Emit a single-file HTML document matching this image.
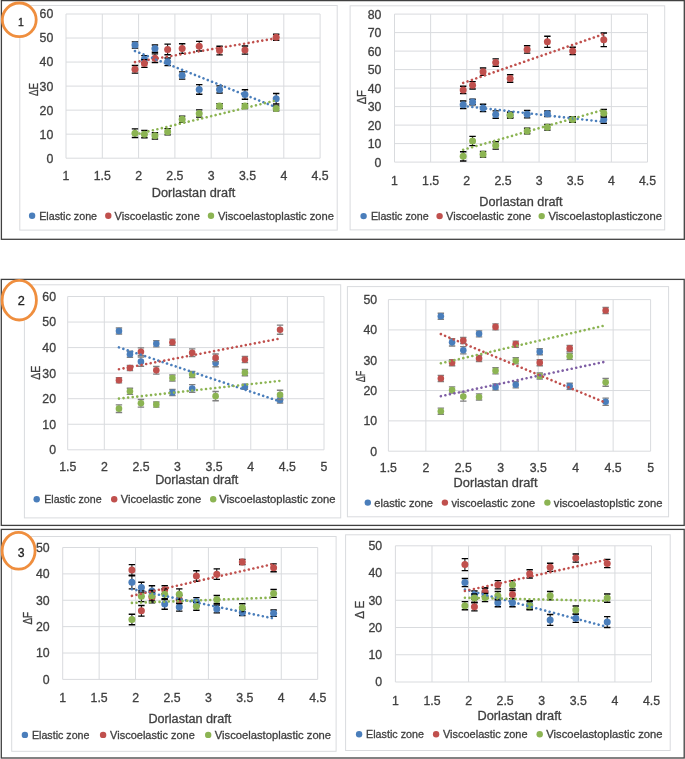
<!DOCTYPE html>
<html><head><meta charset="utf-8"><style>
html,body{margin:0;padding:0;background:#fff;width:685px;height:759px;overflow:hidden}
svg{display:block;will-change:transform}
text{font-family:"Liberation Sans", sans-serif;stroke-width:0.3px}
</style></head><body>
<svg width="685" height="759" viewBox="0 0 685 759">
<rect x="1.4" y="0.6" width="682.9" height="238.7" fill="none" stroke="#404040" stroke-width="1.3"/>
<rect x="1.3" y="279.4" width="682.9" height="246" fill="none" stroke="#404040" stroke-width="1.3"/>
<rect x="1.3" y="529.4" width="682.9" height="228.6" fill="none" stroke="#404040" stroke-width="1.3"/>
<rect x="19.8" y="5.5" width="317.4" height="224.6" fill="#fff" stroke="#d9dbde" stroke-width="1"/>
<path d="M66 14V158.2M102.3 14V158.2M138.6 14V158.2M174.9 14V158.2M211.2 14V158.2M247.5 14V158.2M283.8 14V158.2M320.1 14V158.2M66 158.2H320.1M66 134.17H320.1M66 110.13H320.1M66 86.1H320.1M66 62.07H320.1M66 38.03H320.1M66 14H320.1" stroke="#d9dbde" stroke-width="1" fill="none"/>
<text x="66" y="180" font-size="12.3" text-anchor="middle" fill="#404040" stroke="#404040" stroke-width="0.12">1</text>
<text x="102.3" y="180" font-size="12.3" text-anchor="middle" fill="#404040" stroke="#404040" stroke-width="0.12">1.5</text>
<text x="138.6" y="180" font-size="12.3" text-anchor="middle" fill="#404040" stroke="#404040" stroke-width="0.12">2</text>
<text x="174.9" y="180" font-size="12.3" text-anchor="middle" fill="#404040" stroke="#404040" stroke-width="0.12">2.5</text>
<text x="211.2" y="180" font-size="12.3" text-anchor="middle" fill="#404040" stroke="#404040" stroke-width="0.12">3</text>
<text x="247.5" y="180" font-size="12.3" text-anchor="middle" fill="#404040" stroke="#404040" stroke-width="0.12">3.5</text>
<text x="283.8" y="180" font-size="12.3" text-anchor="middle" fill="#404040" stroke="#404040" stroke-width="0.12">4</text>
<text x="320.1" y="180" font-size="12.3" text-anchor="middle" fill="#404040" stroke="#404040" stroke-width="0.12">4.5</text>
<text x="53.3" y="162.6" font-size="12.3" text-anchor="end" fill="#404040" stroke="#404040" stroke-width="0.12">0</text>
<text x="53.3" y="138.57" font-size="12.3" text-anchor="end" fill="#404040" stroke="#404040" stroke-width="0.12">10</text>
<text x="53.3" y="114.53" font-size="12.3" text-anchor="end" fill="#404040" stroke="#404040" stroke-width="0.12">20</text>
<text x="53.3" y="90.5" font-size="12.3" text-anchor="end" fill="#404040" stroke="#404040" stroke-width="0.12">30</text>
<text x="53.3" y="66.47" font-size="12.3" text-anchor="end" fill="#404040" stroke="#404040" stroke-width="0.12">40</text>
<text x="53.3" y="42.43" font-size="12.3" text-anchor="end" fill="#404040" stroke="#404040" stroke-width="0.12">50</text>
<text x="53.3" y="18.4" font-size="12.3" text-anchor="end" fill="#404040" stroke="#404040" stroke-width="0.12">60</text>
<text x="151.75" y="196.7" font-size="12.5" fill="#404040" stroke="#404040" textLength="83.5" lengthAdjust="spacingAndGlyphs">Dorlastan draft</text>
<text transform="translate(38.4 89.5) rotate(-90)" x="-6.5" y="0" font-size="12.5" fill="#404040" stroke="#404040" textLength="13" lengthAdjust="spacingAndGlyphs">ΔE</text>
<circle cx="32.1" cy="215.8" r="3.2" fill="#4a7ebb"/>
<text x="39.2" y="219.8" font-size="11.3" fill="#404040" stroke="#404040" textLength="57.9" lengthAdjust="spacingAndGlyphs">Elastic zone</text>
<circle cx="108.3" cy="215.8" r="3.2" fill="#c0504d"/>
<text x="114.6" y="219.8" font-size="11.3" fill="#404040" stroke="#404040" textLength="85.2" lengthAdjust="spacingAndGlyphs">Viscoelastic zone</text>
<circle cx="211" cy="215.8" r="3.2" fill="#8cb453"/>
<text x="218" y="219.8" font-size="11.3" fill="#404040" stroke="#404040" textLength="116" lengthAdjust="spacingAndGlyphs">Viscoelastoplastic zone</text>
<path d="M134.97 41.88V48.13" stroke="#000" stroke-width="1" fill="none"/>
<path d="M131.77 41.88H138.17M131.77 48.13H138.17" stroke="#000" stroke-width="1.4" fill="none"/>
<path d="M144.41 55.58V62.79" stroke="#000" stroke-width="1" fill="none"/>
<path d="M141.21 55.58H147.61M141.21 62.79H147.61" stroke="#000" stroke-width="1.4" fill="none"/>
<path d="M154.94 45V52.21" stroke="#000" stroke-width="1" fill="none"/>
<path d="M151.74 45H158.13M151.74 52.21H158.13" stroke="#000" stroke-width="1.4" fill="none"/>
<path d="M167.64 57.98V65.67" stroke="#000" stroke-width="1" fill="none"/>
<path d="M164.44 57.98H170.84M164.44 65.67H170.84" stroke="#000" stroke-width="1.4" fill="none"/>
<path d="M182.16 71.92V79.13" stroke="#000" stroke-width="1" fill="none"/>
<path d="M178.96 71.92H185.36M178.96 79.13H185.36" stroke="#000" stroke-width="1.4" fill="none"/>
<path d="M199.22 84.66V94.27" stroke="#000" stroke-width="1" fill="none"/>
<path d="M196.02 84.66H202.42M196.02 94.27H202.42" stroke="#000" stroke-width="1.4" fill="none"/>
<path d="M219.55 85.86V93.07" stroke="#000" stroke-width="1" fill="none"/>
<path d="M216.35 85.86H222.75M216.35 93.07H222.75" stroke="#000" stroke-width="1.4" fill="none"/>
<path d="M244.96 89.7V99.32" stroke="#000" stroke-width="1" fill="none"/>
<path d="M241.76 89.7H248.16M241.76 99.32H248.16" stroke="#000" stroke-width="1.4" fill="none"/>
<path d="M276.18 93.43V104" stroke="#000" stroke-width="1" fill="none"/>
<path d="M272.98 93.43H279.38M272.98 104H279.38" stroke="#000" stroke-width="1.4" fill="none"/>
<circle cx="134.97" cy="45" r="3.5" fill="#4a7ebb"/>
<circle cx="144.41" cy="59.18" r="3.5" fill="#4a7ebb"/>
<circle cx="154.94" cy="48.61" r="3.5" fill="#4a7ebb"/>
<circle cx="167.64" cy="61.83" r="3.5" fill="#4a7ebb"/>
<circle cx="182.16" cy="75.53" r="3.5" fill="#4a7ebb"/>
<circle cx="199.22" cy="89.46" r="3.5" fill="#4a7ebb"/>
<circle cx="219.55" cy="89.46" r="3.5" fill="#4a7ebb"/>
<circle cx="244.96" cy="94.51" r="3.5" fill="#4a7ebb"/>
<circle cx="276.18" cy="98.72" r="3.5" fill="#4a7ebb"/>
<path d="M134.97 65.43V73.12" stroke="#000" stroke-width="1" fill="none"/>
<path d="M131.77 65.43H138.17M131.77 73.12H138.17" stroke="#000" stroke-width="1.4" fill="none"/>
<path d="M144.41 59.66V67.35" stroke="#000" stroke-width="1" fill="none"/>
<path d="M141.21 59.66H147.61M141.21 67.35H147.61" stroke="#000" stroke-width="1.4" fill="none"/>
<path d="M154.94 53.9V62.55" stroke="#000" stroke-width="1" fill="none"/>
<path d="M151.74 53.9H158.13M151.74 62.55H158.13" stroke="#000" stroke-width="1.4" fill="none"/>
<path d="M167.64 44.16V54.74" stroke="#000" stroke-width="1" fill="none"/>
<path d="M164.44 44.16H170.84M164.44 54.74H170.84" stroke="#000" stroke-width="1.4" fill="none"/>
<path d="M182.16 43.8V53.41" stroke="#000" stroke-width="1" fill="none"/>
<path d="M178.96 43.8H185.36M178.96 53.41H185.36" stroke="#000" stroke-width="1.4" fill="none"/>
<path d="M199.22 41.4V51.01" stroke="#000" stroke-width="1" fill="none"/>
<path d="M196.02 41.4H202.42M196.02 51.01H202.42" stroke="#000" stroke-width="1.4" fill="none"/>
<path d="M219.55 46.2V54.86" stroke="#000" stroke-width="1" fill="none"/>
<path d="M216.35 46.2H222.75M216.35 54.86H222.75" stroke="#000" stroke-width="1.4" fill="none"/>
<path d="M244.96 45.96V54.14" stroke="#000" stroke-width="1" fill="none"/>
<path d="M241.76 45.96H248.16M241.76 54.14H248.16" stroke="#000" stroke-width="1.4" fill="none"/>
<path d="M276.18 34.31V40.32" stroke="#000" stroke-width="1" fill="none"/>
<path d="M272.98 34.31H279.38M272.98 40.32H279.38" stroke="#000" stroke-width="1.4" fill="none"/>
<circle cx="134.97" cy="69.28" r="3.5" fill="#c0504d"/>
<circle cx="144.41" cy="63.51" r="3.5" fill="#c0504d"/>
<circle cx="154.94" cy="58.22" r="3.5" fill="#c0504d"/>
<circle cx="167.64" cy="49.45" r="3.5" fill="#c0504d"/>
<circle cx="182.16" cy="48.61" r="3.5" fill="#c0504d"/>
<circle cx="199.22" cy="46.2" r="3.5" fill="#c0504d"/>
<circle cx="219.55" cy="50.53" r="3.5" fill="#c0504d"/>
<circle cx="244.96" cy="50.05" r="3.5" fill="#c0504d"/>
<circle cx="276.18" cy="37.31" r="3.5" fill="#c0504d"/>
<path d="M134.97 128.88V137.53" stroke="#000" stroke-width="1" fill="none"/>
<path d="M131.77 128.88H138.17M131.77 137.53H138.17" stroke="#000" stroke-width="1.4" fill="none"/>
<path d="M144.41 130.56V137.77" stroke="#000" stroke-width="1" fill="none"/>
<path d="M141.21 130.56H147.61M141.21 137.77H147.61" stroke="#000" stroke-width="1.4" fill="none"/>
<path d="M154.94 132.72V138.97" stroke="#000" stroke-width="1" fill="none"/>
<path d="M151.74 132.72H158.13M151.74 138.97H158.13" stroke="#000" stroke-width="1.4" fill="none"/>
<path d="M167.64 128.64V134.89" stroke="#000" stroke-width="1" fill="none"/>
<path d="M164.44 128.64H170.84M164.44 134.89H170.84" stroke="#000" stroke-width="1.4" fill="none"/>
<path d="M182.16 116.14V122.39" stroke="#000" stroke-width="1" fill="none"/>
<path d="M178.96 116.14H185.36M178.96 122.39H185.36" stroke="#000" stroke-width="1.4" fill="none"/>
<path d="M199.22 109.89V117.1" stroke="#000" stroke-width="1" fill="none"/>
<path d="M196.02 109.89H202.42M196.02 117.1H202.42" stroke="#000" stroke-width="1.4" fill="none"/>
<path d="M219.55 103.64V108.45" stroke="#000" stroke-width="1" fill="none"/>
<path d="M216.35 103.64H222.75M216.35 108.45H222.75" stroke="#000" stroke-width="1.4" fill="none"/>
<path d="M244.96 103.64V108.45" stroke="#000" stroke-width="1" fill="none"/>
<path d="M241.76 103.64H248.16M241.76 108.45H248.16" stroke="#000" stroke-width="1.4" fill="none"/>
<path d="M276.18 106.05V110.85" stroke="#000" stroke-width="1" fill="none"/>
<path d="M272.98 106.05H279.38M272.98 110.85H279.38" stroke="#000" stroke-width="1.4" fill="none"/>
<circle cx="134.97" cy="133.21" r="3.5" fill="#8cb453"/>
<circle cx="144.41" cy="134.17" r="3.5" fill="#8cb453"/>
<circle cx="154.94" cy="135.85" r="3.5" fill="#8cb453"/>
<circle cx="167.64" cy="131.76" r="3.5" fill="#8cb453"/>
<circle cx="182.16" cy="119.27" r="3.5" fill="#8cb453"/>
<circle cx="199.22" cy="113.5" r="3.5" fill="#8cb453"/>
<circle cx="219.55" cy="106.05" r="3.5" fill="#8cb453"/>
<circle cx="244.96" cy="106.05" r="3.5" fill="#8cb453"/>
<circle cx="276.18" cy="108.45" r="3.5" fill="#8cb453"/>
<line x1="134.97" y1="51.04" x2="276.18" y2="107.31" stroke="#4a7ebb" stroke-width="2.6" stroke-dasharray="0.01 4.6" stroke-linecap="round"/>
<line x1="134.97" y1="62.13" x2="276.18" y2="38.28" stroke="#c0504d" stroke-width="2.6" stroke-dasharray="0.01 4.6" stroke-linecap="round"/>
<line x1="134.97" y1="134.64" x2="276.18" y2="100.4" stroke="#8cb453" stroke-width="2.6" stroke-dasharray="0.01 4.6" stroke-linecap="round"/>
<rect x="350.1" y="5.8" width="314.6" height="224.1" fill="#fff" stroke="#d9dbde" stroke-width="1"/>
<path d="M394.5 14.1V162.1M430.64 14.1V162.1M466.79 14.1V162.1M502.93 14.1V162.1M539.07 14.1V162.1M575.21 14.1V162.1M611.36 14.1V162.1M647.5 14.1V162.1M394.5 162.1H647.5M394.5 143.6H647.5M394.5 125.1H647.5M394.5 106.6H647.5M394.5 88.1H647.5M394.5 69.6H647.5M394.5 51.1H647.5M394.5 32.6H647.5M394.5 14.1H647.5" stroke="#d9dbde" stroke-width="1" fill="none"/>
<text x="394.5" y="185.2" font-size="12.3" text-anchor="middle" fill="#404040" stroke="#404040" stroke-width="0.12">1</text>
<text x="430.64" y="185.2" font-size="12.3" text-anchor="middle" fill="#404040" stroke="#404040" stroke-width="0.12">1.5</text>
<text x="466.79" y="185.2" font-size="12.3" text-anchor="middle" fill="#404040" stroke="#404040" stroke-width="0.12">2</text>
<text x="502.93" y="185.2" font-size="12.3" text-anchor="middle" fill="#404040" stroke="#404040" stroke-width="0.12">2.5</text>
<text x="539.07" y="185.2" font-size="12.3" text-anchor="middle" fill="#404040" stroke="#404040" stroke-width="0.12">3</text>
<text x="575.21" y="185.2" font-size="12.3" text-anchor="middle" fill="#404040" stroke="#404040" stroke-width="0.12">3.5</text>
<text x="611.36" y="185.2" font-size="12.3" text-anchor="middle" fill="#404040" stroke="#404040" stroke-width="0.12">4</text>
<text x="647.5" y="185.2" font-size="12.3" text-anchor="middle" fill="#404040" stroke="#404040" stroke-width="0.12">4.5</text>
<text x="381.4" y="166.5" font-size="12.3" text-anchor="end" fill="#404040" stroke="#404040" stroke-width="0.12">0</text>
<text x="381.4" y="148" font-size="12.3" text-anchor="end" fill="#404040" stroke="#404040" stroke-width="0.12">10</text>
<text x="381.4" y="129.5" font-size="12.3" text-anchor="end" fill="#404040" stroke="#404040" stroke-width="0.12">20</text>
<text x="381.4" y="111" font-size="12.3" text-anchor="end" fill="#404040" stroke="#404040" stroke-width="0.12">30</text>
<text x="381.4" y="92.5" font-size="12.3" text-anchor="end" fill="#404040" stroke="#404040" stroke-width="0.12">40</text>
<text x="381.4" y="74" font-size="12.3" text-anchor="end" fill="#404040" stroke="#404040" stroke-width="0.12">50</text>
<text x="381.4" y="55.5" font-size="12.3" text-anchor="end" fill="#404040" stroke="#404040" stroke-width="0.12">60</text>
<text x="381.4" y="37" font-size="12.3" text-anchor="end" fill="#404040" stroke="#404040" stroke-width="0.12">70</text>
<text x="381.4" y="18.5" font-size="12.3" text-anchor="end" fill="#404040" stroke="#404040" stroke-width="0.12">80</text>
<text x="479.35" y="206" font-size="12.5" fill="#404040" stroke="#404040" textLength="83.3" lengthAdjust="spacingAndGlyphs">Dorlastan draft</text>
<text transform="translate(366.3 97.2) rotate(-90)" x="-7.15" y="0" font-size="12.5" fill="#404040" stroke="#404040" textLength="14.3" lengthAdjust="spacingAndGlyphs">ΔF</text>
<circle cx="363.6" cy="216.1" r="3.2" fill="#4a7ebb"/>
<text x="370.9" y="220.1" font-size="11.3" fill="#404040" stroke="#404040" textLength="57.7" lengthAdjust="spacingAndGlyphs">Elastic zone</text>
<circle cx="439.6" cy="216.1" r="3.2" fill="#c0504d"/>
<text x="446.1" y="220.1" font-size="11.3" fill="#404040" stroke="#404040" textLength="85" lengthAdjust="spacingAndGlyphs">Viscoelastic zone</text>
<circle cx="541.7" cy="216.1" r="3.2" fill="#8cb453"/>
<text x="548.4" y="220.1" font-size="11.3" fill="#404040" stroke="#404040" textLength="113.5" lengthAdjust="spacingAndGlyphs">Viscoelastoplasticzone</text>
<path d="M463.17 101.05V108.45" stroke="#000" stroke-width="1" fill="none"/>
<path d="M459.97 101.05H466.37M459.97 108.45H466.37" stroke="#000" stroke-width="1.4" fill="none"/>
<path d="M472.57 99.2V104.75" stroke="#000" stroke-width="1" fill="none"/>
<path d="M469.37 99.2H475.77M469.37 104.75H475.77" stroke="#000" stroke-width="1.4" fill="none"/>
<path d="M483.05 104.19V111.59" stroke="#000" stroke-width="1" fill="none"/>
<path d="M479.85 104.19H486.25M479.85 111.59H486.25" stroke="#000" stroke-width="1.4" fill="none"/>
<path d="M495.7 110.85V118.25" stroke="#000" stroke-width="1" fill="none"/>
<path d="M492.5 110.85H498.9M492.5 118.25H498.9" stroke="#000" stroke-width="1.4" fill="none"/>
<path d="M510.16 112.15V117.7" stroke="#000" stroke-width="1" fill="none"/>
<path d="M506.96 112.15H513.36M506.96 117.7H513.36" stroke="#000" stroke-width="1.4" fill="none"/>
<path d="M527.14 110.48V117.88" stroke="#000" stroke-width="1" fill="none"/>
<path d="M523.94 110.48H530.34M523.94 117.88H530.34" stroke="#000" stroke-width="1.4" fill="none"/>
<path d="M547.38 111.04V116.59" stroke="#000" stroke-width="1" fill="none"/>
<path d="M544.18 111.04H550.58M544.18 116.59H550.58" stroke="#000" stroke-width="1.4" fill="none"/>
<path d="M572.68 116.77V122.32" stroke="#000" stroke-width="1" fill="none"/>
<path d="M569.48 116.77H575.88M569.48 122.32H575.88" stroke="#000" stroke-width="1.4" fill="none"/>
<path d="M603.77 115.85V123.25" stroke="#000" stroke-width="1" fill="none"/>
<path d="M600.57 115.85H606.97M600.57 123.25H606.97" stroke="#000" stroke-width="1.4" fill="none"/>
<circle cx="463.17" cy="104.75" r="3.5" fill="#4a7ebb"/>
<circle cx="472.57" cy="101.97" r="3.5" fill="#4a7ebb"/>
<circle cx="483.05" cy="107.89" r="3.5" fill="#4a7ebb"/>
<circle cx="495.7" cy="114.56" r="3.5" fill="#4a7ebb"/>
<circle cx="510.16" cy="114.92" r="3.5" fill="#4a7ebb"/>
<circle cx="527.14" cy="114.19" r="3.5" fill="#4a7ebb"/>
<circle cx="547.38" cy="113.81" r="3.5" fill="#4a7ebb"/>
<circle cx="572.68" cy="119.55" r="3.5" fill="#4a7ebb"/>
<circle cx="603.77" cy="119.55" r="3.5" fill="#4a7ebb"/>
<path d="M463.17 86.25V93.65" stroke="#000" stroke-width="1" fill="none"/>
<path d="M459.97 86.25H466.37M459.97 93.65H466.37" stroke="#000" stroke-width="1.4" fill="none"/>
<path d="M472.57 81.62V89.02" stroke="#000" stroke-width="1" fill="none"/>
<path d="M469.37 81.62H475.77M469.37 89.02H475.77" stroke="#000" stroke-width="1.4" fill="none"/>
<path d="M483.05 67.94V75.34" stroke="#000" stroke-width="1" fill="none"/>
<path d="M479.85 67.94H486.25M479.85 75.34H486.25" stroke="#000" stroke-width="1.4" fill="none"/>
<path d="M495.7 58.87V66.27" stroke="#000" stroke-width="1" fill="none"/>
<path d="M492.5 58.87H498.9M492.5 66.27H498.9" stroke="#000" stroke-width="1.4" fill="none"/>
<path d="M510.16 74.78V82.18" stroke="#000" stroke-width="1" fill="none"/>
<path d="M506.96 74.78H513.36M506.96 82.18H513.36" stroke="#000" stroke-width="1.4" fill="none"/>
<path d="M527.14 45.73V53.14" stroke="#000" stroke-width="1" fill="none"/>
<path d="M523.94 45.73H530.34M523.94 53.14H530.34" stroke="#000" stroke-width="1.4" fill="none"/>
<path d="M547.38 36.3V47.4" stroke="#000" stroke-width="1" fill="none"/>
<path d="M544.18 36.3H550.58M544.18 47.4H550.58" stroke="#000" stroke-width="1.4" fill="none"/>
<path d="M572.68 47.21V54.61" stroke="#000" stroke-width="1" fill="none"/>
<path d="M569.48 47.21H575.88M569.48 54.61H575.88" stroke="#000" stroke-width="1.4" fill="none"/>
<path d="M603.77 32.97V46.66" stroke="#000" stroke-width="1" fill="none"/>
<path d="M600.57 32.97H606.97M600.57 46.66H606.97" stroke="#000" stroke-width="1.4" fill="none"/>
<circle cx="463.17" cy="89.95" r="3.5" fill="#c0504d"/>
<circle cx="472.57" cy="85.32" r="3.5" fill="#c0504d"/>
<circle cx="483.05" cy="71.64" r="3.5" fill="#c0504d"/>
<circle cx="495.7" cy="62.57" r="3.5" fill="#c0504d"/>
<circle cx="510.16" cy="78.48" r="3.5" fill="#c0504d"/>
<circle cx="527.14" cy="49.44" r="3.5" fill="#c0504d"/>
<circle cx="547.38" cy="41.85" r="3.5" fill="#c0504d"/>
<circle cx="572.68" cy="50.91" r="3.5" fill="#c0504d"/>
<circle cx="603.77" cy="39.81" r="3.5" fill="#c0504d"/>
<path d="M463.17 151.74V160.99" stroke="#000" stroke-width="1" fill="none"/>
<path d="M459.97 151.74H466.37M459.97 160.99H466.37" stroke="#000" stroke-width="1.4" fill="none"/>
<path d="M472.57 136.38V145.63" stroke="#000" stroke-width="1" fill="none"/>
<path d="M469.37 136.38H475.77M469.37 145.63H475.77" stroke="#000" stroke-width="1.4" fill="none"/>
<path d="M483.05 151.56V157.1" stroke="#000" stroke-width="1" fill="none"/>
<path d="M479.85 151.56H486.25M479.85 157.1H486.25" stroke="#000" stroke-width="1.4" fill="none"/>
<path d="M495.7 141.75V149.15" stroke="#000" stroke-width="1" fill="none"/>
<path d="M492.5 141.75H498.9M492.5 149.15H498.9" stroke="#000" stroke-width="1.4" fill="none"/>
<path d="M510.16 112.52V118.07" stroke="#000" stroke-width="1" fill="none"/>
<path d="M506.96 112.52H513.36M506.96 118.07H513.36" stroke="#000" stroke-width="1.4" fill="none"/>
<path d="M527.14 128.25V133.79" stroke="#000" stroke-width="1" fill="none"/>
<path d="M523.94 128.25H530.34M523.94 133.79H530.34" stroke="#000" stroke-width="1.4" fill="none"/>
<path d="M547.38 124.54V130.09" stroke="#000" stroke-width="1" fill="none"/>
<path d="M544.18 124.54H550.58M544.18 130.09H550.58" stroke="#000" stroke-width="1.4" fill="none"/>
<path d="M572.68 116.77V122.32" stroke="#000" stroke-width="1" fill="none"/>
<path d="M569.48 116.77H575.88M569.48 122.32H575.88" stroke="#000" stroke-width="1.4" fill="none"/>
<path d="M603.77 109.56V116.96" stroke="#000" stroke-width="1" fill="none"/>
<path d="M600.57 109.56H606.97M600.57 116.96H606.97" stroke="#000" stroke-width="1.4" fill="none"/>
<circle cx="463.17" cy="156.36" r="3.5" fill="#8cb453"/>
<circle cx="472.57" cy="141.01" r="3.5" fill="#8cb453"/>
<circle cx="483.05" cy="154.33" r="3.5" fill="#8cb453"/>
<circle cx="495.7" cy="145.45" r="3.5" fill="#8cb453"/>
<circle cx="510.16" cy="115.29" r="3.5" fill="#8cb453"/>
<circle cx="527.14" cy="131.02" r="3.5" fill="#8cb453"/>
<circle cx="547.38" cy="127.32" r="3.5" fill="#8cb453"/>
<circle cx="572.68" cy="119.55" r="3.5" fill="#8cb453"/>
<circle cx="603.77" cy="113.26" r="3.5" fill="#8cb453"/>
<line x1="463.17" y1="106" x2="603.77" y2="121.86" stroke="#4a7ebb" stroke-width="2.6" stroke-dasharray="0.01 4.6" stroke-linecap="round"/>
<line x1="463.17" y1="82.93" x2="603.77" y2="34.02" stroke="#c0504d" stroke-width="2.6" stroke-dasharray="0.01 4.6" stroke-linecap="round"/>
<line x1="463.17" y1="149.75" x2="603.77" y2="109.78" stroke="#8cb453" stroke-width="2.6" stroke-dasharray="0.01 4.6" stroke-linecap="round"/>
<rect x="24.4" y="284.8" width="316.3" height="233.1" fill="#fff" stroke="#d9dbde" stroke-width="1"/>
<path d="M67.7 296.5V449.8M104.31 296.5V449.8M140.93 296.5V449.8M177.54 296.5V449.8M214.16 296.5V449.8M250.77 296.5V449.8M287.39 296.5V449.8M324 296.5V449.8M67.7 449.8H324M67.7 424.25H324M67.7 398.7H324M67.7 373.15H324M67.7 347.6H324M67.7 322.05H324M67.7 296.5H324" stroke="#d9dbde" stroke-width="1" fill="none"/>
<text x="67.7" y="470.6" font-size="12.3" text-anchor="middle" fill="#404040" stroke="#404040" stroke-width="0.12">1.5</text>
<text x="104.31" y="470.6" font-size="12.3" text-anchor="middle" fill="#404040" stroke="#404040" stroke-width="0.12">2</text>
<text x="140.93" y="470.6" font-size="12.3" text-anchor="middle" fill="#404040" stroke="#404040" stroke-width="0.12">2.5</text>
<text x="177.54" y="470.6" font-size="12.3" text-anchor="middle" fill="#404040" stroke="#404040" stroke-width="0.12">3</text>
<text x="214.16" y="470.6" font-size="12.3" text-anchor="middle" fill="#404040" stroke="#404040" stroke-width="0.12">3.5</text>
<text x="250.77" y="470.6" font-size="12.3" text-anchor="middle" fill="#404040" stroke="#404040" stroke-width="0.12">4</text>
<text x="287.39" y="470.6" font-size="12.3" text-anchor="middle" fill="#404040" stroke="#404040" stroke-width="0.12">4.5</text>
<text x="324" y="470.6" font-size="12.3" text-anchor="middle" fill="#404040" stroke="#404040" stroke-width="0.12">5</text>
<text x="56" y="454.2" font-size="12.3" text-anchor="end" fill="#404040" stroke="#404040" stroke-width="0.12">0</text>
<text x="56" y="428.65" font-size="12.3" text-anchor="end" fill="#404040" stroke="#404040" stroke-width="0.12">10</text>
<text x="56" y="403.1" font-size="12.3" text-anchor="end" fill="#404040" stroke="#404040" stroke-width="0.12">20</text>
<text x="56" y="377.55" font-size="12.3" text-anchor="end" fill="#404040" stroke="#404040" stroke-width="0.12">30</text>
<text x="56" y="352" font-size="12.3" text-anchor="end" fill="#404040" stroke="#404040" stroke-width="0.12">40</text>
<text x="56" y="326.45" font-size="12.3" text-anchor="end" fill="#404040" stroke="#404040" stroke-width="0.12">50</text>
<text x="56" y="300.9" font-size="12.3" text-anchor="end" fill="#404040" stroke="#404040" stroke-width="0.12">60</text>
<text x="155.15" y="484.2" font-size="12.5" fill="#404040" stroke="#404040" textLength="83.1" lengthAdjust="spacingAndGlyphs">Dorlastan draft</text>
<text transform="translate(40 372.8) rotate(-90)" x="-7.05" y="0" font-size="12.5" fill="#404040" stroke="#404040" textLength="14.1" lengthAdjust="spacingAndGlyphs">ΔE</text>
<circle cx="36.7" cy="499.3" r="3.2" fill="#4a7ebb"/>
<text x="44.2" y="503.3" font-size="11.3" fill="#404040" stroke="#404040" textLength="57.4" lengthAdjust="spacingAndGlyphs">Elastic zone</text>
<circle cx="114.2" cy="499.3" r="3.2" fill="#c0504d"/>
<text x="120.8" y="503.3" font-size="11.3" fill="#404040" stroke="#404040" textLength="80.4" lengthAdjust="spacingAndGlyphs">Vicoelastic zone</text>
<circle cx="213.2" cy="499.3" r="3.2" fill="#8cb453"/>
<text x="219.2" y="503.3" font-size="11.3" fill="#404040" stroke="#404040" textLength="116.4" lengthAdjust="spacingAndGlyphs">Viscoelastoplastic zone</text>
<path d="M118.96 327.93V334.06" stroke="#7f7f7f" stroke-width="1" fill="none"/>
<path d="M115.76 327.93H122.16M115.76 334.06H122.16" stroke="#7f7f7f" stroke-width="1.4" fill="none"/>
<path d="M129.94 351.18V357.31" stroke="#7f7f7f" stroke-width="1" fill="none"/>
<path d="M126.74 351.18H133.14M126.74 357.31H133.14" stroke="#7f7f7f" stroke-width="1.4" fill="none"/>
<path d="M140.93 357.05V366.25" stroke="#7f7f7f" stroke-width="1" fill="none"/>
<path d="M137.73 357.05H144.13M137.73 366.25H144.13" stroke="#7f7f7f" stroke-width="1.4" fill="none"/>
<path d="M156.31 340.7V346.83" stroke="#7f7f7f" stroke-width="1" fill="none"/>
<path d="M153.11 340.7H159.51M153.11 346.83H159.51" stroke="#7f7f7f" stroke-width="1.4" fill="none"/>
<path d="M172.42 389.5V395.63" stroke="#7f7f7f" stroke-width="1" fill="none"/>
<path d="M169.22 389.5H175.62M169.22 395.63H175.62" stroke="#7f7f7f" stroke-width="1.4" fill="none"/>
<path d="M192.19 384.65V392.31" stroke="#7f7f7f" stroke-width="1" fill="none"/>
<path d="M188.99 384.65H195.39M188.99 392.31H195.39" stroke="#7f7f7f" stroke-width="1.4" fill="none"/>
<path d="M215.62 359.1V366.76" stroke="#7f7f7f" stroke-width="1" fill="none"/>
<path d="M212.42 359.1H218.82M212.42 366.76H218.82" stroke="#7f7f7f" stroke-width="1.4" fill="none"/>
<path d="M244.91 384.14V389.25" stroke="#7f7f7f" stroke-width="1" fill="none"/>
<path d="M241.71 384.14H248.11M241.71 389.25H248.11" stroke="#7f7f7f" stroke-width="1.4" fill="none"/>
<path d="M280.06 396.91V403.04" stroke="#7f7f7f" stroke-width="1" fill="none"/>
<path d="M276.86 396.91H283.26M276.86 403.04H283.26" stroke="#7f7f7f" stroke-width="1.4" fill="none"/>
<circle cx="118.96" cy="330.99" r="3.3" fill="#4a7ebb"/>
<circle cx="129.94" cy="354.24" r="3.3" fill="#4a7ebb"/>
<circle cx="140.93" cy="361.65" r="3.3" fill="#4a7ebb"/>
<circle cx="156.31" cy="343.77" r="3.3" fill="#4a7ebb"/>
<circle cx="172.42" cy="392.57" r="3.3" fill="#4a7ebb"/>
<circle cx="192.19" cy="388.48" r="3.3" fill="#4a7ebb"/>
<circle cx="215.62" cy="362.93" r="3.3" fill="#4a7ebb"/>
<circle cx="244.91" cy="386.69" r="3.3" fill="#4a7ebb"/>
<circle cx="280.06" cy="399.98" r="3.3" fill="#4a7ebb"/>
<path d="M118.96 377.75V382.86" stroke="#7f7f7f" stroke-width="1" fill="none"/>
<path d="M115.76 377.75H122.16M115.76 382.86H122.16" stroke="#7f7f7f" stroke-width="1.4" fill="none"/>
<path d="M129.94 365.49V370.6" stroke="#7f7f7f" stroke-width="1" fill="none"/>
<path d="M126.74 365.49H133.14M126.74 370.6H133.14" stroke="#7f7f7f" stroke-width="1.4" fill="none"/>
<path d="M140.93 347.86V355.52" stroke="#7f7f7f" stroke-width="1" fill="none"/>
<path d="M137.73 347.86H144.13M137.73 355.52H144.13" stroke="#7f7f7f" stroke-width="1.4" fill="none"/>
<path d="M156.31 366.51V374.17" stroke="#7f7f7f" stroke-width="1" fill="none"/>
<path d="M153.11 366.51H159.51M153.11 374.17H159.51" stroke="#7f7f7f" stroke-width="1.4" fill="none"/>
<path d="M172.42 339.17V345.3" stroke="#7f7f7f" stroke-width="1" fill="none"/>
<path d="M169.22 339.17H175.62M169.22 345.3H175.62" stroke="#7f7f7f" stroke-width="1.4" fill="none"/>
<path d="M192.19 348.88V356.54" stroke="#7f7f7f" stroke-width="1" fill="none"/>
<path d="M188.99 348.88H195.39M188.99 356.54H195.39" stroke="#7f7f7f" stroke-width="1.4" fill="none"/>
<path d="M215.62 353.99V361.65" stroke="#7f7f7f" stroke-width="1" fill="none"/>
<path d="M212.42 353.99H218.82M212.42 361.65H218.82" stroke="#7f7f7f" stroke-width="1.4" fill="none"/>
<path d="M244.91 356.54V362.67" stroke="#7f7f7f" stroke-width="1" fill="none"/>
<path d="M241.71 356.54H248.11M241.71 362.67H248.11" stroke="#7f7f7f" stroke-width="1.4" fill="none"/>
<path d="M280.06 325.12V334.31" stroke="#7f7f7f" stroke-width="1" fill="none"/>
<path d="M276.86 325.12H283.26M276.86 334.31H283.26" stroke="#7f7f7f" stroke-width="1.4" fill="none"/>
<circle cx="118.96" cy="380.3" r="3.3" fill="#c0504d"/>
<circle cx="129.94" cy="368.04" r="3.3" fill="#c0504d"/>
<circle cx="140.93" cy="351.69" r="3.3" fill="#c0504d"/>
<circle cx="156.31" cy="370.34" r="3.3" fill="#c0504d"/>
<circle cx="172.42" cy="342.23" r="3.3" fill="#c0504d"/>
<circle cx="192.19" cy="352.71" r="3.3" fill="#c0504d"/>
<circle cx="215.62" cy="357.82" r="3.3" fill="#c0504d"/>
<circle cx="244.91" cy="359.61" r="3.3" fill="#c0504d"/>
<circle cx="280.06" cy="329.72" r="3.3" fill="#c0504d"/>
<path d="M118.96 404.83V412.5" stroke="#7f7f7f" stroke-width="1" fill="none"/>
<path d="M115.76 404.83H122.16M115.76 412.5H122.16" stroke="#7f7f7f" stroke-width="1.4" fill="none"/>
<path d="M129.94 388.22V394.36" stroke="#7f7f7f" stroke-width="1" fill="none"/>
<path d="M126.74 388.22H133.14M126.74 394.36H133.14" stroke="#7f7f7f" stroke-width="1.4" fill="none"/>
<path d="M140.93 399.47V407.13" stroke="#7f7f7f" stroke-width="1" fill="none"/>
<path d="M137.73 399.47H144.13M137.73 407.13H144.13" stroke="#7f7f7f" stroke-width="1.4" fill="none"/>
<path d="M156.31 402.02V407.13" stroke="#7f7f7f" stroke-width="1" fill="none"/>
<path d="M153.11 402.02H159.51M153.11 407.13H159.51" stroke="#7f7f7f" stroke-width="1.4" fill="none"/>
<path d="M172.42 374.94V381.07" stroke="#7f7f7f" stroke-width="1" fill="none"/>
<path d="M169.22 374.94H175.62M169.22 381.07H175.62" stroke="#7f7f7f" stroke-width="1.4" fill="none"/>
<path d="M192.19 371.36V377.49" stroke="#7f7f7f" stroke-width="1" fill="none"/>
<path d="M188.99 371.36H195.39M188.99 377.49H195.39" stroke="#7f7f7f" stroke-width="1.4" fill="none"/>
<path d="M215.62 391.55V400.74" stroke="#7f7f7f" stroke-width="1" fill="none"/>
<path d="M212.42 391.55H218.82M212.42 400.74H218.82" stroke="#7f7f7f" stroke-width="1.4" fill="none"/>
<path d="M244.91 369.57V375.7" stroke="#7f7f7f" stroke-width="1" fill="none"/>
<path d="M241.71 369.57H248.11M241.71 375.7H248.11" stroke="#7f7f7f" stroke-width="1.4" fill="none"/>
<path d="M280.06 390.27V399.47" stroke="#7f7f7f" stroke-width="1" fill="none"/>
<path d="M276.86 390.27H283.26M276.86 399.47H283.26" stroke="#7f7f7f" stroke-width="1.4" fill="none"/>
<circle cx="118.96" cy="408.66" r="3.3" fill="#8cb453"/>
<circle cx="129.94" cy="391.29" r="3.3" fill="#8cb453"/>
<circle cx="140.93" cy="403.3" r="3.3" fill="#8cb453"/>
<circle cx="156.31" cy="404.58" r="3.3" fill="#8cb453"/>
<circle cx="172.42" cy="378" r="3.3" fill="#8cb453"/>
<circle cx="192.19" cy="374.43" r="3.3" fill="#8cb453"/>
<circle cx="215.62" cy="396.14" r="3.3" fill="#8cb453"/>
<circle cx="244.91" cy="372.64" r="3.3" fill="#8cb453"/>
<circle cx="280.06" cy="394.87" r="3.3" fill="#8cb453"/>
<line x1="118.96" y1="347.36" x2="280.06" y2="401.48" stroke="#4a7ebb" stroke-width="2.6" stroke-dasharray="0.01 4.6" stroke-linecap="round"/>
<line x1="118.96" y1="369.23" x2="280.06" y2="338.55" stroke="#c0504d" stroke-width="2.6" stroke-dasharray="0.01 4.6" stroke-linecap="round"/>
<line x1="118.96" y1="398.66" x2="280.06" y2="380.89" stroke="#8cb453" stroke-width="2.6" stroke-dasharray="0.01 4.6" stroke-linecap="round"/>
<rect x="347.4" y="286.6" width="321.2" height="230.2" fill="#fff" stroke="#d9dbde" stroke-width="1"/>
<path d="M388.4 299.6V451.2M425.86 299.6V451.2M463.31 299.6V451.2M500.77 299.6V451.2M538.23 299.6V451.2M575.69 299.6V451.2M613.14 299.6V451.2M650.6 299.6V451.2M388.4 451.2H650.6M388.4 420.88H650.6M388.4 390.56H650.6M388.4 360.24H650.6M388.4 329.92H650.6M388.4 299.6H650.6" stroke="#d9dbde" stroke-width="1" fill="none"/>
<text x="388.4" y="471.7" font-size="12.3" text-anchor="middle" fill="#404040" stroke="#404040" stroke-width="0.12">1.5</text>
<text x="425.86" y="471.7" font-size="12.3" text-anchor="middle" fill="#404040" stroke="#404040" stroke-width="0.12">2</text>
<text x="463.31" y="471.7" font-size="12.3" text-anchor="middle" fill="#404040" stroke="#404040" stroke-width="0.12">2.5</text>
<text x="500.77" y="471.7" font-size="12.3" text-anchor="middle" fill="#404040" stroke="#404040" stroke-width="0.12">3</text>
<text x="538.23" y="471.7" font-size="12.3" text-anchor="middle" fill="#404040" stroke="#404040" stroke-width="0.12">3.5</text>
<text x="575.69" y="471.7" font-size="12.3" text-anchor="middle" fill="#404040" stroke="#404040" stroke-width="0.12">4</text>
<text x="613.14" y="471.7" font-size="12.3" text-anchor="middle" fill="#404040" stroke="#404040" stroke-width="0.12">4.5</text>
<text x="650.6" y="471.7" font-size="12.3" text-anchor="middle" fill="#404040" stroke="#404040" stroke-width="0.12">5</text>
<text x="377.2" y="455.6" font-size="12.3" text-anchor="end" fill="#404040" stroke="#404040" stroke-width="0.12">0</text>
<text x="377.2" y="425.28" font-size="12.3" text-anchor="end" fill="#404040" stroke="#404040" stroke-width="0.12">10</text>
<text x="377.2" y="394.96" font-size="12.3" text-anchor="end" fill="#404040" stroke="#404040" stroke-width="0.12">20</text>
<text x="377.2" y="364.64" font-size="12.3" text-anchor="end" fill="#404040" stroke="#404040" stroke-width="0.12">30</text>
<text x="377.2" y="334.32" font-size="12.3" text-anchor="end" fill="#404040" stroke="#404040" stroke-width="0.12">40</text>
<text x="377.2" y="304" font-size="12.3" text-anchor="end" fill="#404040" stroke="#404040" stroke-width="0.12">50</text>
<text x="453.55" y="486.7" font-size="12.5" fill="#404040" stroke="#404040" textLength="83.9" lengthAdjust="spacingAndGlyphs">Dorlastan draft</text>
<text transform="translate(364.8 376.4) rotate(-90)" x="-5.8" y="0" font-size="12.5" fill="#404040" stroke="#404040" textLength="11.6" lengthAdjust="spacingAndGlyphs">ΔF</text>
<circle cx="367.8" cy="502.6" r="3.2" fill="#4a7ebb"/>
<text x="374.3" y="506.6" font-size="11.3" fill="#404040" stroke="#404040" textLength="58.7" lengthAdjust="spacingAndGlyphs">elastic zone</text>
<circle cx="444.9" cy="502.6" r="3.2" fill="#c0504d"/>
<text x="451.6" y="506.6" font-size="11.3" fill="#404040" stroke="#404040" textLength="83.5" lengthAdjust="spacingAndGlyphs">viscoelastic zone</text>
<circle cx="547.4" cy="502.6" r="3.2" fill="#8cb453"/>
<text x="553.8" y="506.6" font-size="11.3" fill="#404040" stroke="#404040" textLength="108.6" lengthAdjust="spacingAndGlyphs">viscoelastoplstic zone</text>
<path d="M440.84 313.24V319.31" stroke="#7f7f7f" stroke-width="1" fill="none"/>
<path d="M437.64 313.24H444.04M437.64 319.31H444.04" stroke="#7f7f7f" stroke-width="1.4" fill="none"/>
<path d="M452.08 338.71V345.99" stroke="#7f7f7f" stroke-width="1" fill="none"/>
<path d="M448.88 338.71H455.28M448.88 345.99H455.28" stroke="#7f7f7f" stroke-width="1.4" fill="none"/>
<path d="M463.31 346.6V353.87" stroke="#7f7f7f" stroke-width="1" fill="none"/>
<path d="M460.11 346.6H466.51M460.11 353.87H466.51" stroke="#7f7f7f" stroke-width="1.4" fill="none"/>
<path d="M479.05 330.83V336.89" stroke="#7f7f7f" stroke-width="1" fill="none"/>
<path d="M475.85 330.83H482.25M475.85 336.89H482.25" stroke="#7f7f7f" stroke-width="1.4" fill="none"/>
<path d="M495.53 383.89V389.95" stroke="#7f7f7f" stroke-width="1" fill="none"/>
<path d="M492.33 383.89H498.73M492.33 389.95H498.73" stroke="#7f7f7f" stroke-width="1.4" fill="none"/>
<path d="M515.75 381.77V387.83" stroke="#7f7f7f" stroke-width="1" fill="none"/>
<path d="M512.55 381.77H518.95M512.55 387.83H518.95" stroke="#7f7f7f" stroke-width="1.4" fill="none"/>
<path d="M539.73 348.72V354.78" stroke="#7f7f7f" stroke-width="1" fill="none"/>
<path d="M536.53 348.72H542.93M536.53 354.78H542.93" stroke="#7f7f7f" stroke-width="1.4" fill="none"/>
<path d="M569.69 383.28V389.35" stroke="#7f7f7f" stroke-width="1" fill="none"/>
<path d="M566.49 383.28H572.89M566.49 389.35H572.89" stroke="#7f7f7f" stroke-width="1.4" fill="none"/>
<path d="M605.65 398.14V405.42" stroke="#7f7f7f" stroke-width="1" fill="none"/>
<path d="M602.45 398.14H608.85M602.45 405.42H608.85" stroke="#7f7f7f" stroke-width="1.4" fill="none"/>
<circle cx="440.84" cy="316.28" r="3.3" fill="#4a7ebb"/>
<circle cx="452.08" cy="342.35" r="3.3" fill="#4a7ebb"/>
<circle cx="463.31" cy="350.23" r="3.3" fill="#4a7ebb"/>
<circle cx="479.05" cy="333.86" r="3.3" fill="#4a7ebb"/>
<circle cx="495.53" cy="386.92" r="3.3" fill="#4a7ebb"/>
<circle cx="515.75" cy="384.8" r="3.3" fill="#4a7ebb"/>
<circle cx="539.73" cy="351.75" r="3.3" fill="#4a7ebb"/>
<circle cx="569.69" cy="386.32" r="3.3" fill="#4a7ebb"/>
<circle cx="605.65" cy="401.78" r="3.3" fill="#4a7ebb"/>
<path d="M440.84 375.4V381.46" stroke="#7f7f7f" stroke-width="1" fill="none"/>
<path d="M437.64 375.4H444.04M437.64 381.46H444.04" stroke="#7f7f7f" stroke-width="1.4" fill="none"/>
<path d="M452.08 359.63V365.7" stroke="#7f7f7f" stroke-width="1" fill="none"/>
<path d="M448.88 359.63H455.28M448.88 365.7H455.28" stroke="#7f7f7f" stroke-width="1.4" fill="none"/>
<path d="M463.31 337.5V343.56" stroke="#7f7f7f" stroke-width="1" fill="none"/>
<path d="M460.11 337.5H466.51M460.11 343.56H466.51" stroke="#7f7f7f" stroke-width="1.4" fill="none"/>
<path d="M479.05 355.39V361.45" stroke="#7f7f7f" stroke-width="1" fill="none"/>
<path d="M475.85 355.39H482.25M475.85 361.45H482.25" stroke="#7f7f7f" stroke-width="1.4" fill="none"/>
<path d="M495.53 323.86V329.92" stroke="#7f7f7f" stroke-width="1" fill="none"/>
<path d="M492.33 323.86H498.73M492.33 329.92H498.73" stroke="#7f7f7f" stroke-width="1.4" fill="none"/>
<path d="M515.75 341.14V347.2" stroke="#7f7f7f" stroke-width="1" fill="none"/>
<path d="M512.55 341.14H518.95M512.55 347.2H518.95" stroke="#7f7f7f" stroke-width="1.4" fill="none"/>
<path d="M539.73 359.63V365.7" stroke="#7f7f7f" stroke-width="1" fill="none"/>
<path d="M536.53 359.63H542.93M536.53 365.7H542.93" stroke="#7f7f7f" stroke-width="1.4" fill="none"/>
<path d="M569.69 345.38V351.45" stroke="#7f7f7f" stroke-width="1" fill="none"/>
<path d="M566.49 345.38H572.89M566.49 351.45H572.89" stroke="#7f7f7f" stroke-width="1.4" fill="none"/>
<path d="M605.65 307.48V313.55" stroke="#7f7f7f" stroke-width="1" fill="none"/>
<path d="M602.45 307.48H608.85M602.45 313.55H608.85" stroke="#7f7f7f" stroke-width="1.4" fill="none"/>
<circle cx="440.84" cy="378.43" r="3.3" fill="#c0504d"/>
<circle cx="452.08" cy="362.67" r="3.3" fill="#c0504d"/>
<circle cx="463.31" cy="340.53" r="3.3" fill="#c0504d"/>
<circle cx="479.05" cy="358.42" r="3.3" fill="#c0504d"/>
<circle cx="495.53" cy="326.89" r="3.3" fill="#c0504d"/>
<circle cx="515.75" cy="344.17" r="3.3" fill="#c0504d"/>
<circle cx="539.73" cy="362.67" r="3.3" fill="#c0504d"/>
<circle cx="569.69" cy="348.42" r="3.3" fill="#c0504d"/>
<circle cx="605.65" cy="310.52" r="3.3" fill="#c0504d"/>
<path d="M440.84 408.15V414.21" stroke="#7f7f7f" stroke-width="1" fill="none"/>
<path d="M437.64 408.15H444.04M437.64 414.21H444.04" stroke="#7f7f7f" stroke-width="1.4" fill="none"/>
<path d="M452.08 386.92V392.99" stroke="#7f7f7f" stroke-width="1" fill="none"/>
<path d="M448.88 386.92H455.28M448.88 392.99H455.28" stroke="#7f7f7f" stroke-width="1.4" fill="none"/>
<path d="M463.31 392.08V401.17" stroke="#7f7f7f" stroke-width="1" fill="none"/>
<path d="M460.11 392.08H466.51M460.11 401.17H466.51" stroke="#7f7f7f" stroke-width="1.4" fill="none"/>
<path d="M479.05 393.9V399.96" stroke="#7f7f7f" stroke-width="1" fill="none"/>
<path d="M475.85 393.9H482.25M475.85 399.96H482.25" stroke="#7f7f7f" stroke-width="1.4" fill="none"/>
<path d="M495.53 367.82V373.88" stroke="#7f7f7f" stroke-width="1" fill="none"/>
<path d="M492.33 367.82H498.73M492.33 373.88H498.73" stroke="#7f7f7f" stroke-width="1.4" fill="none"/>
<path d="M515.75 357.81V363.88" stroke="#7f7f7f" stroke-width="1" fill="none"/>
<path d="M512.55 357.81H518.95M512.55 363.88H518.95" stroke="#7f7f7f" stroke-width="1.4" fill="none"/>
<path d="M539.73 372.97V379.04" stroke="#7f7f7f" stroke-width="1" fill="none"/>
<path d="M536.53 372.97H542.93M536.53 379.04H542.93" stroke="#7f7f7f" stroke-width="1.4" fill="none"/>
<path d="M569.69 353.27V359.33" stroke="#7f7f7f" stroke-width="1" fill="none"/>
<path d="M566.49 353.27H572.89M566.49 359.33H572.89" stroke="#7f7f7f" stroke-width="1.4" fill="none"/>
<path d="M605.65 378.43V386.32" stroke="#7f7f7f" stroke-width="1" fill="none"/>
<path d="M602.45 378.43H608.85M602.45 386.32H608.85" stroke="#7f7f7f" stroke-width="1.4" fill="none"/>
<circle cx="440.84" cy="411.18" r="3.3" fill="#8cb453"/>
<circle cx="452.08" cy="389.95" r="3.3" fill="#8cb453"/>
<circle cx="463.31" cy="396.62" r="3.3" fill="#8cb453"/>
<circle cx="479.05" cy="396.93" r="3.3" fill="#8cb453"/>
<circle cx="495.53" cy="370.85" r="3.3" fill="#8cb453"/>
<circle cx="515.75" cy="360.85" r="3.3" fill="#8cb453"/>
<circle cx="539.73" cy="376.01" r="3.3" fill="#8cb453"/>
<circle cx="569.69" cy="356.3" r="3.3" fill="#8cb453"/>
<circle cx="605.65" cy="382.37" r="3.3" fill="#8cb453"/>
<line x1="440.84" y1="334.07" x2="605.65" y2="402.77" stroke="#c0504d" stroke-width="2.6" stroke-dasharray="0.01 4.6" stroke-linecap="round"/>
<line x1="440.84" y1="363.29" x2="605.65" y2="325.31" stroke="#8cb453" stroke-width="2.6" stroke-dasharray="0.01 4.6" stroke-linecap="round"/>
<line x1="440.84" y1="396.19" x2="605.65" y2="361.61" stroke="#7f5fa5" stroke-width="2.6" stroke-dasharray="0.01 4.6" stroke-linecap="round"/>
<rect x="11.7" y="536.5" width="324.4" height="214.8" fill="#fff" stroke="#d9dbde" stroke-width="1"/>
<path d="M62.7 547.5V679.4M99.13 547.5V679.4M135.56 547.5V679.4M171.99 547.5V679.4M208.41 547.5V679.4M244.84 547.5V679.4M281.27 547.5V679.4M317.7 547.5V679.4M62.7 679.4H317.7M62.7 653.02H317.7M62.7 626.64H317.7M62.7 600.26H317.7M62.7 573.88H317.7M62.7 547.5H317.7" stroke="#d9dbde" stroke-width="1" fill="none"/>
<text x="62.7" y="702.3" font-size="12.3" text-anchor="middle" fill="#404040" stroke="#404040" stroke-width="0.12">1</text>
<text x="99.13" y="702.3" font-size="12.3" text-anchor="middle" fill="#404040" stroke="#404040" stroke-width="0.12">1.5</text>
<text x="135.56" y="702.3" font-size="12.3" text-anchor="middle" fill="#404040" stroke="#404040" stroke-width="0.12">2</text>
<text x="171.99" y="702.3" font-size="12.3" text-anchor="middle" fill="#404040" stroke="#404040" stroke-width="0.12">2.5</text>
<text x="208.41" y="702.3" font-size="12.3" text-anchor="middle" fill="#404040" stroke="#404040" stroke-width="0.12">3</text>
<text x="244.84" y="702.3" font-size="12.3" text-anchor="middle" fill="#404040" stroke="#404040" stroke-width="0.12">3.5</text>
<text x="281.27" y="702.3" font-size="12.3" text-anchor="middle" fill="#404040" stroke="#404040" stroke-width="0.12">4</text>
<text x="317.7" y="702.3" font-size="12.3" text-anchor="middle" fill="#404040" stroke="#404040" stroke-width="0.12">4.5</text>
<text x="49.6" y="683.8" font-size="12.3" text-anchor="end" fill="#404040" stroke="#404040" stroke-width="0.12">0</text>
<text x="49.6" y="657.42" font-size="12.3" text-anchor="end" fill="#404040" stroke="#404040" stroke-width="0.12">10</text>
<text x="49.6" y="631.04" font-size="12.3" text-anchor="end" fill="#404040" stroke="#404040" stroke-width="0.12">20</text>
<text x="49.6" y="604.66" font-size="12.3" text-anchor="end" fill="#404040" stroke="#404040" stroke-width="0.12">30</text>
<text x="49.6" y="578.28" font-size="12.3" text-anchor="end" fill="#404040" stroke="#404040" stroke-width="0.12">40</text>
<text x="49.6" y="551.9" font-size="12.3" text-anchor="end" fill="#404040" stroke="#404040" stroke-width="0.12">50</text>
<text x="148.45" y="723.4" font-size="12.5" fill="#404040" stroke="#404040" textLength="82.9" lengthAdjust="spacingAndGlyphs">Dorlastan draft</text>
<text transform="translate(32.2 618.2) rotate(-90)" x="-6.4" y="0" font-size="12.5" fill="#404040" stroke="#404040" textLength="12.8" lengthAdjust="spacingAndGlyphs">ΔF</text>
<circle cx="24.9" cy="734.9" r="3.2" fill="#4a7ebb"/>
<text x="31.9" y="738.9" font-size="11.3" fill="#404040" stroke="#404040" textLength="57.6" lengthAdjust="spacingAndGlyphs">Elastic zone</text>
<circle cx="103.1" cy="734.9" r="3.2" fill="#c0504d"/>
<text x="110.1" y="738.9" font-size="11.3" fill="#404040" stroke="#404040" textLength="84.7" lengthAdjust="spacingAndGlyphs">Viscoelastic zone</text>
<circle cx="208.2" cy="734.9" r="3.2" fill="#8cb453"/>
<text x="214.8" y="738.9" font-size="11.3" fill="#404040" stroke="#404040" textLength="116.3" lengthAdjust="spacingAndGlyphs">Viscoelastoplastic zone</text>
<path d="M131.91 575.73V588.92" stroke="#000" stroke-width="1" fill="none"/>
<path d="M128.71 575.73H135.11M128.71 588.92H135.11" stroke="#000" stroke-width="1.4" fill="none"/>
<path d="M141.39 582.32V592.87" stroke="#000" stroke-width="1" fill="none"/>
<path d="M138.19 582.32H144.59M138.19 592.87H144.59" stroke="#000" stroke-width="1.4" fill="none"/>
<path d="M151.95 585.75V596.3" stroke="#000" stroke-width="1" fill="none"/>
<path d="M148.75 585.75H155.15M148.75 596.3H155.15" stroke="#000" stroke-width="1.4" fill="none"/>
<path d="M164.7 598.68V609.23" stroke="#000" stroke-width="1" fill="none"/>
<path d="M161.5 598.68H167.9M161.5 609.23H167.9" stroke="#000" stroke-width="1.4" fill="none"/>
<path d="M179.27 603.16V611.08" stroke="#000" stroke-width="1" fill="none"/>
<path d="M176.07 603.16H182.47M176.07 611.08H182.47" stroke="#000" stroke-width="1.4" fill="none"/>
<path d="M196.39 597.62V605.54" stroke="#000" stroke-width="1" fill="none"/>
<path d="M193.19 597.62H199.59M193.19 605.54H199.59" stroke="#000" stroke-width="1.4" fill="none"/>
<path d="M216.79 605.01V612.92" stroke="#000" stroke-width="1" fill="none"/>
<path d="M213.59 605.01H219.99M213.59 612.92H219.99" stroke="#000" stroke-width="1.4" fill="none"/>
<path d="M242.29 609.23V615.56" stroke="#000" stroke-width="1" fill="none"/>
<path d="M239.09 609.23H245.49M239.09 615.56H245.49" stroke="#000" stroke-width="1.4" fill="none"/>
<path d="M273.62 610.02V616.35" stroke="#000" stroke-width="1" fill="none"/>
<path d="M270.42 610.02H276.82M270.42 616.35H276.82" stroke="#000" stroke-width="1.4" fill="none"/>
<circle cx="131.91" cy="582.32" r="3.5" fill="#4a7ebb"/>
<circle cx="141.39" cy="587.6" r="3.5" fill="#4a7ebb"/>
<circle cx="151.95" cy="591.03" r="3.5" fill="#4a7ebb"/>
<circle cx="164.7" cy="603.95" r="3.5" fill="#4a7ebb"/>
<circle cx="179.27" cy="607.12" r="3.5" fill="#4a7ebb"/>
<circle cx="196.39" cy="601.58" r="3.5" fill="#4a7ebb"/>
<circle cx="216.79" cy="608.97" r="3.5" fill="#4a7ebb"/>
<circle cx="242.29" cy="612.39" r="3.5" fill="#4a7ebb"/>
<circle cx="273.62" cy="613.19" r="3.5" fill="#4a7ebb"/>
<path d="M131.91 564.65V575.2" stroke="#000" stroke-width="1" fill="none"/>
<path d="M128.71 564.65H135.11M128.71 575.2H135.11" stroke="#000" stroke-width="1.4" fill="none"/>
<path d="M141.39 605.54V616.09" stroke="#000" stroke-width="1" fill="none"/>
<path d="M138.19 605.54H144.59M138.19 616.09H144.59" stroke="#000" stroke-width="1.4" fill="none"/>
<path d="M151.95 592.35V602.9" stroke="#000" stroke-width="1" fill="none"/>
<path d="M148.75 592.35H155.15M148.75 602.9H155.15" stroke="#000" stroke-width="1.4" fill="none"/>
<path d="M164.7 585.75V593.66" stroke="#000" stroke-width="1" fill="none"/>
<path d="M161.5 585.75H167.9M161.5 593.66H167.9" stroke="#000" stroke-width="1.4" fill="none"/>
<path d="M179.27 595.51V603.43" stroke="#000" stroke-width="1" fill="none"/>
<path d="M176.07 595.51H182.47M176.07 603.43H182.47" stroke="#000" stroke-width="1.4" fill="none"/>
<path d="M196.39 570.71V581.27" stroke="#000" stroke-width="1" fill="none"/>
<path d="M193.19 570.71H199.59M193.19 581.27H199.59" stroke="#000" stroke-width="1.4" fill="none"/>
<path d="M216.79 568.87V579.42" stroke="#000" stroke-width="1" fill="none"/>
<path d="M213.59 568.87H219.99M213.59 579.42H219.99" stroke="#000" stroke-width="1.4" fill="none"/>
<path d="M242.29 559.37V564.65" stroke="#000" stroke-width="1" fill="none"/>
<path d="M239.09 559.37H245.49M239.09 564.65H245.49" stroke="#000" stroke-width="1.4" fill="none"/>
<path d="M273.62 563.86V571.77" stroke="#000" stroke-width="1" fill="none"/>
<path d="M270.42 563.86H276.82M270.42 571.77H276.82" stroke="#000" stroke-width="1.4" fill="none"/>
<circle cx="131.91" cy="569.92" r="3.5" fill="#c0504d"/>
<circle cx="141.39" cy="610.81" r="3.5" fill="#c0504d"/>
<circle cx="151.95" cy="597.62" r="3.5" fill="#c0504d"/>
<circle cx="164.7" cy="589.71" r="3.5" fill="#c0504d"/>
<circle cx="179.27" cy="599.47" r="3.5" fill="#c0504d"/>
<circle cx="196.39" cy="575.99" r="3.5" fill="#c0504d"/>
<circle cx="216.79" cy="574.14" r="3.5" fill="#c0504d"/>
<circle cx="242.29" cy="562.01" r="3.5" fill="#c0504d"/>
<circle cx="273.62" cy="567.81" r="3.5" fill="#c0504d"/>
<path d="M131.91 614.24V624.79" stroke="#000" stroke-width="1" fill="none"/>
<path d="M128.71 614.24H135.11M128.71 624.79H135.11" stroke="#000" stroke-width="1.4" fill="none"/>
<path d="M141.39 591.03V601.58" stroke="#000" stroke-width="1" fill="none"/>
<path d="M138.19 591.03H144.59M138.19 601.58H144.59" stroke="#000" stroke-width="1.4" fill="none"/>
<path d="M151.95 590.5V601.05" stroke="#000" stroke-width="1" fill="none"/>
<path d="M148.75 590.5H155.15M148.75 601.05H155.15" stroke="#000" stroke-width="1.4" fill="none"/>
<path d="M164.7 588.92V599.47" stroke="#000" stroke-width="1" fill="none"/>
<path d="M161.5 588.92H167.9M161.5 599.47H167.9" stroke="#000" stroke-width="1.4" fill="none"/>
<path d="M179.27 588.92V599.47" stroke="#000" stroke-width="1" fill="none"/>
<path d="M176.07 588.92H182.47M176.07 599.47H182.47" stroke="#000" stroke-width="1.4" fill="none"/>
<path d="M196.39 602.37V610.28" stroke="#000" stroke-width="1" fill="none"/>
<path d="M193.19 602.37H199.59M193.19 610.28H199.59" stroke="#000" stroke-width="1.4" fill="none"/>
<path d="M216.79 595.51V603.43" stroke="#000" stroke-width="1" fill="none"/>
<path d="M213.59 595.51H219.99M213.59 603.43H219.99" stroke="#000" stroke-width="1.4" fill="none"/>
<path d="M242.29 603.69V611.6" stroke="#000" stroke-width="1" fill="none"/>
<path d="M239.09 603.69H245.49M239.09 611.6H245.49" stroke="#000" stroke-width="1.4" fill="none"/>
<path d="M273.62 589.44V597.36" stroke="#000" stroke-width="1" fill="none"/>
<path d="M270.42 589.44H276.82M270.42 597.36H276.82" stroke="#000" stroke-width="1.4" fill="none"/>
<circle cx="131.91" cy="619.52" r="3.5" fill="#8cb453"/>
<circle cx="141.39" cy="596.3" r="3.5" fill="#8cb453"/>
<circle cx="151.95" cy="595.78" r="3.5" fill="#8cb453"/>
<circle cx="164.7" cy="594.19" r="3.5" fill="#8cb453"/>
<circle cx="179.27" cy="594.19" r="3.5" fill="#8cb453"/>
<circle cx="196.39" cy="606.33" r="3.5" fill="#8cb453"/>
<circle cx="216.79" cy="599.47" r="3.5" fill="#8cb453"/>
<circle cx="242.29" cy="607.65" r="3.5" fill="#8cb453"/>
<circle cx="273.62" cy="593.4" r="3.5" fill="#8cb453"/>
<line x1="131.91" y1="589.16" x2="273.62" y2="618.46" stroke="#4a7ebb" stroke-width="2.6" stroke-dasharray="0.01 4.6" stroke-linecap="round"/>
<line x1="131.91" y1="595.84" x2="273.62" y2="563.94" stroke="#c0504d" stroke-width="2.6" stroke-dasharray="0.01 4.6" stroke-linecap="round"/>
<line x1="131.91" y1="602.92" x2="273.62" y2="597.53" stroke="#8cb453" stroke-width="2.6" stroke-dasharray="0.01 4.6" stroke-linecap="round"/>
<rect x="345.6" y="534.8" width="324.6" height="215.7" fill="#fff" stroke="#d9dbde" stroke-width="1"/>
<path d="M395.4 545.8V682M431.99 545.8V682M468.57 545.8V682M505.16 545.8V682M541.74 545.8V682M578.33 545.8V682M614.91 545.8V682M651.5 545.8V682M395.4 682H651.5M395.4 654.76H651.5M395.4 627.52H651.5M395.4 600.28H651.5M395.4 573.04H651.5M395.4 545.8H651.5" stroke="#d9dbde" stroke-width="1" fill="none"/>
<text x="395.4" y="704.8" font-size="12.3" text-anchor="middle" fill="#404040" stroke="#404040" stroke-width="0.12">1</text>
<text x="431.99" y="704.8" font-size="12.3" text-anchor="middle" fill="#404040" stroke="#404040" stroke-width="0.12">1.5</text>
<text x="468.57" y="704.8" font-size="12.3" text-anchor="middle" fill="#404040" stroke="#404040" stroke-width="0.12">2</text>
<text x="505.16" y="704.8" font-size="12.3" text-anchor="middle" fill="#404040" stroke="#404040" stroke-width="0.12">2.5</text>
<text x="541.74" y="704.8" font-size="12.3" text-anchor="middle" fill="#404040" stroke="#404040" stroke-width="0.12">3</text>
<text x="578.33" y="704.8" font-size="12.3" text-anchor="middle" fill="#404040" stroke="#404040" stroke-width="0.12">3.5</text>
<text x="614.91" y="704.8" font-size="12.3" text-anchor="middle" fill="#404040" stroke="#404040" stroke-width="0.12">4</text>
<text x="651.5" y="704.8" font-size="12.3" text-anchor="middle" fill="#404040" stroke="#404040" stroke-width="0.12">4.5</text>
<text x="382.2" y="686.4" font-size="12.3" text-anchor="end" fill="#404040" stroke="#404040" stroke-width="0.12">0</text>
<text x="382.2" y="659.16" font-size="12.3" text-anchor="end" fill="#404040" stroke="#404040" stroke-width="0.12">10</text>
<text x="382.2" y="631.92" font-size="12.3" text-anchor="end" fill="#404040" stroke="#404040" stroke-width="0.12">20</text>
<text x="382.2" y="604.68" font-size="12.3" text-anchor="end" fill="#404040" stroke="#404040" stroke-width="0.12">30</text>
<text x="382.2" y="577.44" font-size="12.3" text-anchor="end" fill="#404040" stroke="#404040" stroke-width="0.12">40</text>
<text x="382.2" y="550.2" font-size="12.3" text-anchor="end" fill="#404040" stroke="#404040" stroke-width="0.12">50</text>
<text x="477.5" y="720.2" font-size="12.5" fill="#404040" stroke="#404040" textLength="83.8" lengthAdjust="spacingAndGlyphs">Dorlastan draft</text>
<text transform="translate(364 609.8) rotate(-90)" x="-9.05" y="0" font-size="12.5" fill="#404040" stroke="#404040" textLength="18.1" lengthAdjust="spacingAndGlyphs">Δ E</text>
<circle cx="359.1" cy="734.3" r="3.2" fill="#4a7ebb"/>
<text x="366.1" y="738.3" font-size="11.3" fill="#404040" stroke="#404040" textLength="57.8" lengthAdjust="spacingAndGlyphs">Elastic zone</text>
<circle cx="436.1" cy="734.3" r="3.2" fill="#c0504d"/>
<text x="443" y="738.3" font-size="11.3" fill="#404040" stroke="#404040" textLength="84.5" lengthAdjust="spacingAndGlyphs">Viscoelastic zone</text>
<circle cx="539.7" cy="734.3" r="3.2" fill="#8cb453"/>
<text x="546.3" y="738.3" font-size="11.3" fill="#404040" stroke="#404040" textLength="116.2" lengthAdjust="spacingAndGlyphs">Viscoelastoplastic zone</text>
<path d="M464.91 578.49V586.66" stroke="#000" stroke-width="1" fill="none"/>
<path d="M461.71 578.49H468.11M461.71 586.66H468.11" stroke="#000" stroke-width="1.4" fill="none"/>
<path d="M474.43 591.02V599.19" stroke="#000" stroke-width="1" fill="none"/>
<path d="M471.23 591.02H477.63M471.23 599.19H477.63" stroke="#000" stroke-width="1.4" fill="none"/>
<path d="M485.03 588.02V596.19" stroke="#000" stroke-width="1" fill="none"/>
<path d="M481.83 588.02H488.23M481.83 596.19H488.23" stroke="#000" stroke-width="1.4" fill="none"/>
<path d="M497.84 598.65V606.82" stroke="#000" stroke-width="1" fill="none"/>
<path d="M494.64 598.65H501.04M494.64 606.82H501.04" stroke="#000" stroke-width="1.4" fill="none"/>
<path d="M512.47 598.65V606.82" stroke="#000" stroke-width="1" fill="none"/>
<path d="M509.27 598.65H515.67M509.27 606.82H515.67" stroke="#000" stroke-width="1.4" fill="none"/>
<path d="M529.67 600.82V609" stroke="#000" stroke-width="1" fill="none"/>
<path d="M526.47 600.82H532.87M526.47 609H532.87" stroke="#000" stroke-width="1.4" fill="none"/>
<path d="M550.16 614.44V625.34" stroke="#000" stroke-width="1" fill="none"/>
<path d="M546.96 614.44H553.36M546.96 625.34H553.36" stroke="#000" stroke-width="1.4" fill="none"/>
<path d="M575.77 614.17V622.34" stroke="#000" stroke-width="1" fill="none"/>
<path d="M572.57 614.17H578.97M572.57 622.34H578.97" stroke="#000" stroke-width="1.4" fill="none"/>
<path d="M607.23 616.62V627.52" stroke="#000" stroke-width="1" fill="none"/>
<path d="M604.03 616.62H610.43M604.03 627.52H610.43" stroke="#000" stroke-width="1.4" fill="none"/>
<circle cx="464.91" cy="582.57" r="3.5" fill="#4a7ebb"/>
<circle cx="474.43" cy="595.1" r="3.5" fill="#4a7ebb"/>
<circle cx="485.03" cy="592.11" r="3.5" fill="#4a7ebb"/>
<circle cx="497.84" cy="602.73" r="3.5" fill="#4a7ebb"/>
<circle cx="512.47" cy="602.73" r="3.5" fill="#4a7ebb"/>
<circle cx="529.67" cy="604.91" r="3.5" fill="#4a7ebb"/>
<circle cx="550.16" cy="619.89" r="3.5" fill="#4a7ebb"/>
<circle cx="575.77" cy="618.26" r="3.5" fill="#4a7ebb"/>
<circle cx="607.23" cy="622.07" r="3.5" fill="#4a7ebb"/>
<path d="M464.91 558.6V570.59" stroke="#000" stroke-width="1" fill="none"/>
<path d="M461.71 558.6H468.11M461.71 570.59H468.11" stroke="#000" stroke-width="1.4" fill="none"/>
<path d="M474.43 602.73V610.9" stroke="#000" stroke-width="1" fill="none"/>
<path d="M471.23 602.73H477.63M471.23 610.9H477.63" stroke="#000" stroke-width="1.4" fill="none"/>
<path d="M485.03 588.02V596.19" stroke="#000" stroke-width="1" fill="none"/>
<path d="M481.83 588.02H488.23M481.83 596.19H488.23" stroke="#000" stroke-width="1.4" fill="none"/>
<path d="M497.84 580.67V588.84" stroke="#000" stroke-width="1" fill="none"/>
<path d="M494.64 580.67H501.04M494.64 588.84H501.04" stroke="#000" stroke-width="1.4" fill="none"/>
<path d="M512.47 590.47V598.65" stroke="#000" stroke-width="1" fill="none"/>
<path d="M509.27 590.47H515.67M509.27 598.65H515.67" stroke="#000" stroke-width="1.4" fill="none"/>
<path d="M529.67 569.77V577.94" stroke="#000" stroke-width="1" fill="none"/>
<path d="M526.47 569.77H532.87M526.47 577.94H532.87" stroke="#000" stroke-width="1.4" fill="none"/>
<path d="M550.16 563.23V571.41" stroke="#000" stroke-width="1" fill="none"/>
<path d="M546.96 563.23H553.36M546.96 571.41H553.36" stroke="#000" stroke-width="1.4" fill="none"/>
<path d="M575.77 553.97V562.14" stroke="#000" stroke-width="1" fill="none"/>
<path d="M572.57 553.97H578.97M572.57 562.14H578.97" stroke="#000" stroke-width="1.4" fill="none"/>
<path d="M607.23 559.42V567.59" stroke="#000" stroke-width="1" fill="none"/>
<path d="M604.03 559.42H610.43M604.03 567.59H610.43" stroke="#000" stroke-width="1.4" fill="none"/>
<circle cx="464.91" cy="564.6" r="3.5" fill="#c0504d"/>
<circle cx="474.43" cy="606.82" r="3.5" fill="#c0504d"/>
<circle cx="485.03" cy="592.11" r="3.5" fill="#c0504d"/>
<circle cx="497.84" cy="584.75" r="3.5" fill="#c0504d"/>
<circle cx="512.47" cy="594.56" r="3.5" fill="#c0504d"/>
<circle cx="529.67" cy="573.86" r="3.5" fill="#c0504d"/>
<circle cx="550.16" cy="567.32" r="3.5" fill="#c0504d"/>
<circle cx="575.77" cy="558.06" r="3.5" fill="#c0504d"/>
<circle cx="607.23" cy="563.51" r="3.5" fill="#c0504d"/>
<path d="M464.91 601.64V609.81" stroke="#000" stroke-width="1" fill="none"/>
<path d="M461.71 601.64H468.11M461.71 609.81H468.11" stroke="#000" stroke-width="1.4" fill="none"/>
<path d="M474.43 594.01V602.19" stroke="#000" stroke-width="1" fill="none"/>
<path d="M471.23 594.01H477.63M471.23 602.19H477.63" stroke="#000" stroke-width="1.4" fill="none"/>
<path d="M485.03 593.47V601.64" stroke="#000" stroke-width="1" fill="none"/>
<path d="M481.83 593.47H488.23M481.83 601.64H488.23" stroke="#000" stroke-width="1.4" fill="none"/>
<path d="M497.84 591.56V599.74" stroke="#000" stroke-width="1" fill="none"/>
<path d="M494.64 591.56H501.04M494.64 599.74H501.04" stroke="#000" stroke-width="1.4" fill="none"/>
<path d="M512.47 580.67V588.84" stroke="#000" stroke-width="1" fill="none"/>
<path d="M509.27 580.67H515.67M509.27 588.84H515.67" stroke="#000" stroke-width="1.4" fill="none"/>
<path d="M529.67 601.64V609.81" stroke="#000" stroke-width="1" fill="none"/>
<path d="M526.47 601.64H532.87M526.47 609.81H532.87" stroke="#000" stroke-width="1.4" fill="none"/>
<path d="M550.16 591.56V599.74" stroke="#000" stroke-width="1" fill="none"/>
<path d="M546.96 591.56H553.36M546.96 599.74H553.36" stroke="#000" stroke-width="1.4" fill="none"/>
<path d="M575.77 606V614.17" stroke="#000" stroke-width="1" fill="none"/>
<path d="M572.57 606H578.97M572.57 614.17H578.97" stroke="#000" stroke-width="1.4" fill="none"/>
<path d="M607.23 594.01V602.19" stroke="#000" stroke-width="1" fill="none"/>
<path d="M604.03 594.01H610.43M604.03 602.19H610.43" stroke="#000" stroke-width="1.4" fill="none"/>
<circle cx="464.91" cy="605.73" r="3.5" fill="#8cb453"/>
<circle cx="474.43" cy="598.1" r="3.5" fill="#8cb453"/>
<circle cx="485.03" cy="597.56" r="3.5" fill="#8cb453"/>
<circle cx="497.84" cy="595.65" r="3.5" fill="#8cb453"/>
<circle cx="512.47" cy="584.75" r="3.5" fill="#8cb453"/>
<circle cx="529.67" cy="605.73" r="3.5" fill="#8cb453"/>
<circle cx="550.16" cy="595.65" r="3.5" fill="#8cb453"/>
<circle cx="575.77" cy="610.09" r="3.5" fill="#8cb453"/>
<circle cx="607.23" cy="598.1" r="3.5" fill="#8cb453"/>
<line x1="464.91" y1="589.47" x2="607.23" y2="626.95" stroke="#4a7ebb" stroke-width="2.6" stroke-dasharray="0.01 4.6" stroke-linecap="round"/>
<line x1="464.91" y1="590.95" x2="607.23" y2="559.62" stroke="#c0504d" stroke-width="2.6" stroke-dasharray="0.01 4.6" stroke-linecap="round"/>
<line x1="464.91" y1="597.79" x2="607.23" y2="600.9" stroke="#8cb453" stroke-width="2.6" stroke-dasharray="0.01 4.6" stroke-linecap="round"/>
<ellipse cx="19.25" cy="19.85" rx="16.95" ry="16.85" fill="#fff" stroke="#ef8e3e" stroke-width="2.8"/>
<ellipse cx="19.25" cy="300.2" rx="17.15" ry="19.8" fill="#fff" stroke="#ef8e3e" stroke-width="2.8"/>
<ellipse cx="18.6" cy="550.8" rx="16.5" ry="18.4" fill="#fff" stroke="#ef8e3e" stroke-width="2.8"/>
<text x="20.8" y="26.1" font-size="10.5" text-anchor="middle" fill="#222" stroke="#222">1</text>
<text x="21.3" y="305.3" font-size="12.7" text-anchor="middle" fill="#222" stroke="#222">2</text>
<text x="21.2" y="557.1" font-size="12.2" text-anchor="middle" fill="#222" stroke="#222">3</text>
</svg>
</body></html>
